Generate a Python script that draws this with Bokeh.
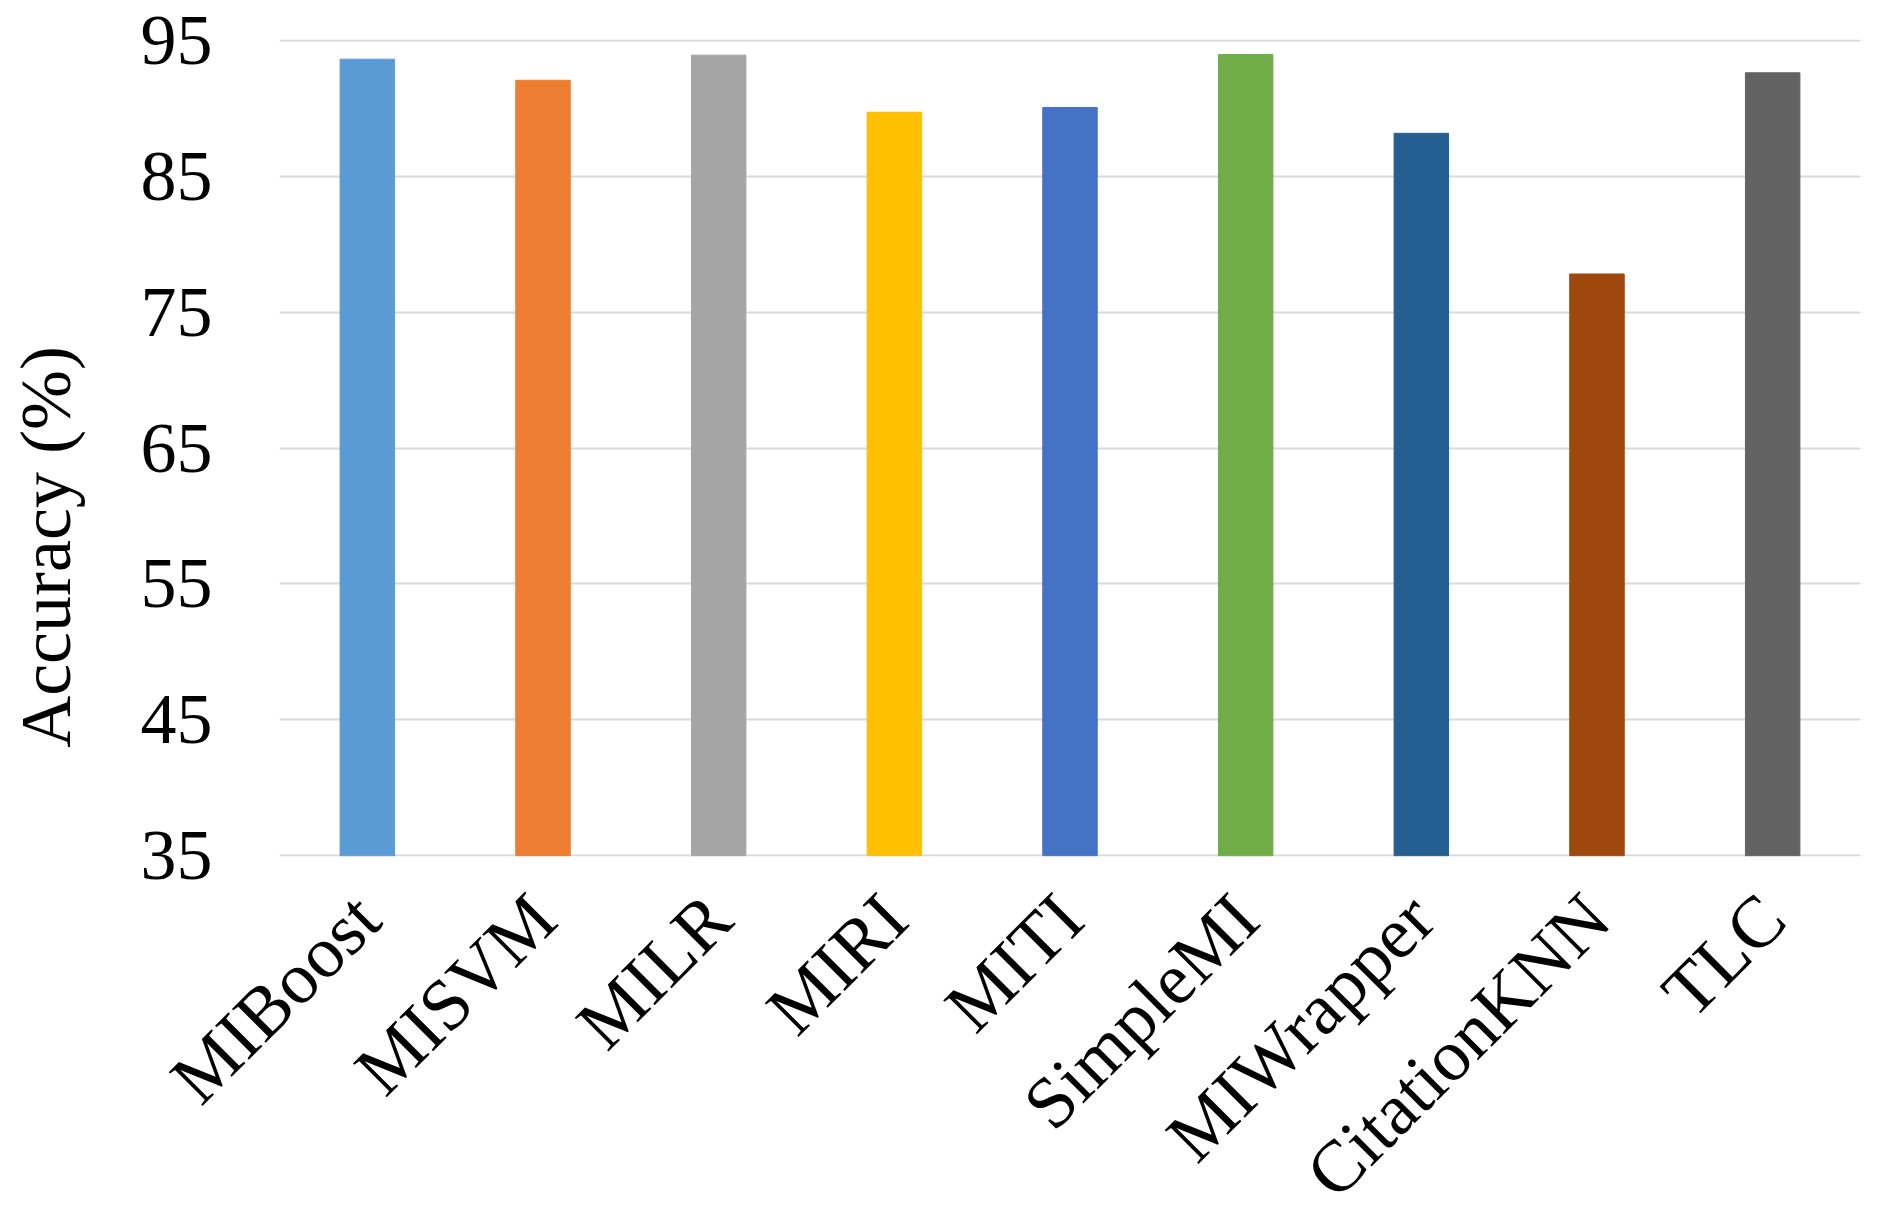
import math
from bokeh.plotting import figure
from bokeh.models import Range1d, ColumnDataSource
from bokeh.embed import file_html
from bokeh.resources import INLINE

methods = ["MIBoost", "MISVM", "MILR", "MIRI", "MITI", "SimpleMI", "MIWrapper", "CitationKNN", "TLC"]
accuracy = [93.6, 92.05, 93.9, 89.7, 90.05, 93.95, 88.15, 77.8, 92.6]
colors = ["#5B9BD5", "#ED7D31", "#A5A5A5", "#FFC000", "#4472C4", "#70AD47", "#255E91", "#9E480E", "#636363"]
y_ticks = [35, 45, 55, 65, 75, 85, 95]
y_title = "Accuracy (%)"

FONT = "Liberation Serif"

src = ColumnDataSource(dict(method=methods, acc=accuracy, color=colors))

p = figure(x_range=methods, y_range=Range1d(34.95, 95.05), width=1877, height=1248,
           output_backend="svg", toolbar_location=None,
           min_border_left=279, min_border_right=17, min_border_top=39, min_border_bottom=392)

p.vbar(x="method", top="acc", bottom=35, width=0.31, color="color", source=src)

p.outline_line_color = None
p.xgrid.grid_line_color = None
p.ygrid.grid_line_color = "#d9d9d9"
p.ygrid.grid_line_width = 2
p.yaxis.ticker = y_ticks

for ax in (p.xaxis[0], p.yaxis[0]):
    ax.axis_line_color = None
    ax.major_tick_line_color = None
    ax.minor_tick_line_color = None
    ax.major_tick_out = 0
    ax.major_tick_in = 0
    ax.major_label_text_font = FONT
    ax.major_label_text_color = "black"

yax = p.yaxis[0]
yax.major_label_text_font_size = "72px"
yax.major_label_standoff = 67
# title sits lower than the frame centre in the reference: pad its top end
yax.axis_label = y_title + "\u00a0" * 11
yax.axis_label_text_font = FONT
yax.axis_label_text_font_size = "72px"
yax.axis_label_text_font_style = "normal"
yax.axis_label_text_color = "black"
yax.axis_label_standoff = 52

xax = p.xaxis[0]
xax.major_label_text_font_size = "73px"
xax.major_label_orientation = math.pi / 4
xax.major_label_standoff = 50

open("out.html", "w").write(file_html(p, INLINE))
